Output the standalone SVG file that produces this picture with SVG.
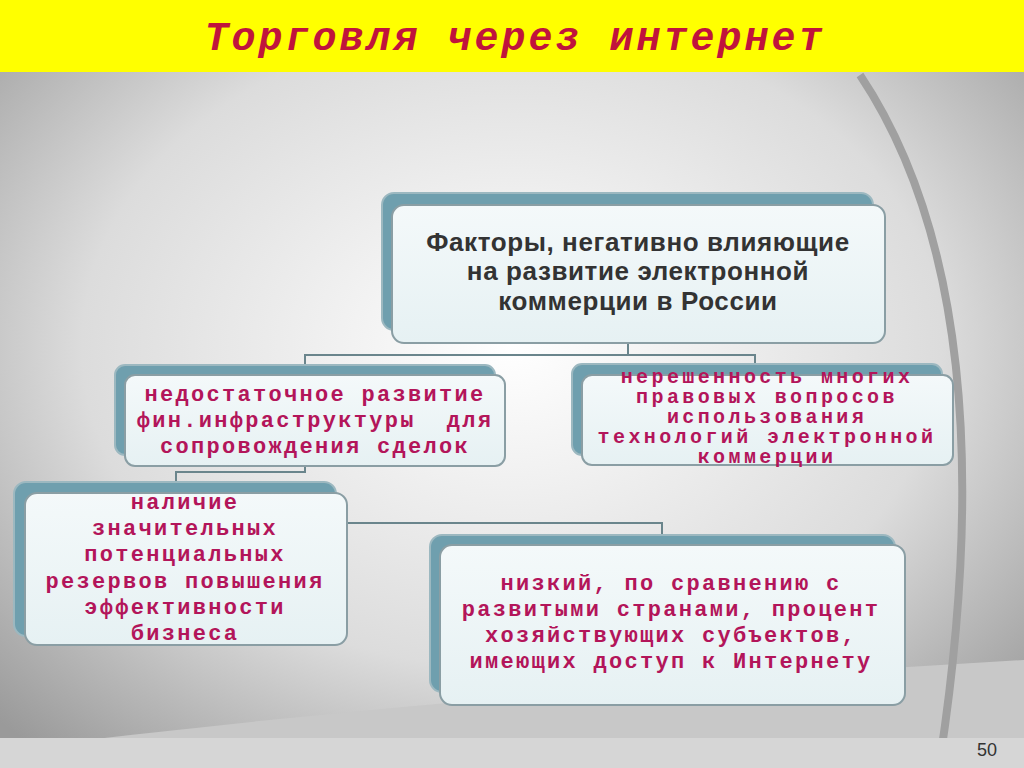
<svg xmlns="http://www.w3.org/2000/svg" width="1024" height="768" viewBox="0 0 1024 768">
<defs>
<radialGradient id="bg" cx="0.5" cy="0.45" r="0.7">
<stop offset="0" stop-color="#ffffff"/><stop offset="0.6" stop-color="#dcdcdc"/><stop offset="1" stop-color="#9a9a9a"/>
</radialGradient>
<linearGradient id="fr" x1="0" y1="0" x2="0" y2="1"><stop offset="0" stop-color="#f4f9fa"/><stop offset="1" stop-color="#e6f1f3"/></linearGradient>
</defs>
<style>
.back{fill:#6f9fae;stroke:#9cb8c0;stroke-width:2}
.front{fill:url(#fr);stroke:#8a9ea4;stroke-width:2}
.m{font-family:"Liberation Mono",monospace;font-weight:bold;font-size:22px;letter-spacing:2.3px;fill:#b3155a;text-anchor:middle}
.s{font-size:20px;letter-spacing:3.4px}
.h{font-family:"Liberation Sans",Arial,sans-serif;font-weight:bold;font-size:26px;letter-spacing:0.6px;fill:#333;text-anchor:middle}
.c{fill:none;stroke:#6a858c;stroke-width:2}
</style>
<rect width="1024" height="768" fill="url(#bg)"/>
<path d="M0 750 Q500 690 1024 660 V768 H0Z" fill="#c8c8c8"/>
<path d="M860 75 Q1010 300 940 760" fill="none" stroke="#a0a0a0" stroke-width="8"/>
<rect x="0" y="738" width="1024" height="30" fill="#d6d6d6"/>
<rect x="0" y="0" width="1024" height="72" fill="#ffff00"/>
<text x="515" y="50" font-family="Liberation Mono,monospace" font-weight="bold" font-style="italic" font-size="40" letter-spacing="3" fill="#c0143c" text-anchor="middle">Торговля через интернет</text>
<text x="987" y="756" font-family="Liberation Sans,sans-serif" font-size="18" fill="#333" text-anchor="middle">50</text>
<g id="connectors">
<path class="c" d="M628 343 V355 M305 365 V355 H755 V364"/>
<path class="c" d="M305 466 V472 H176 V482"/>
<path class="c" d="M347 523 H662 V535"/>
</g>
<g id="n1">
<rect class="back" x="382" y="193" width="491" height="137" rx="12"/>
<rect class="front" x="392" y="205" width="493" height="138" rx="12"/>
<text class="h" x="638" y="251">Факторы, негативно влияющие</text>
<text class="h" x="638" y="280">на развитие электронной</text>
<text class="h" x="638" y="310">коммерции в России</text>
</g>
<g id="n2">
<rect class="back" x="115" y="365" width="380" height="90" rx="10"/>
<rect class="front" x="125" y="375" width="380" height="91" rx="10"/>
<text class="m" x="315" y="401">недостаточное развитие</text>
<text class="m" x="315" y="427" xml:space="preserve">фин.инфраструктуры  для</text>
<text class="m" x="315" y="453">сопровождения сделок</text>
</g>
<g id="n3">
<rect class="back" x="572" y="364" width="370" height="91" rx="10"/>
<rect class="front" x="582" y="375" width="371" height="90" rx="10"/>
<text class="m s" x="767" y="383">нерешенность многих</text>
<text class="m s" x="767" y="403">правовых вопросов</text>
<text class="m s" x="767" y="423">использования</text>
<text class="m s" x="767" y="443">технологий электронной</text>
<text class="m s" x="767" y="463">коммерции</text>
</g>
<g id="n4">
<rect class="back" x="14" y="482" width="322" height="154" rx="12"/>
<rect class="front" x="25" y="493" width="322" height="152" rx="12"/>
<text class="m" x="185" y="509">наличие</text>
<text class="m" x="185" y="535">значительных</text>
<text class="m" x="185" y="561">потенциальных</text>
<text class="m" x="185" y="588">резервов повышения</text>
<text class="m" x="185" y="614">эффективности</text>
<text class="m" x="185" y="640">бизнеса</text>
</g>
<g id="n5">
<rect class="back" x="430" y="535" width="465" height="157" rx="12"/>
<rect class="front" x="440" y="545" width="465" height="160" rx="12"/>
<text class="m" x="671" y="590">низкий, по сравнению с</text>
<text class="m" x="671" y="616">развитыми странами, процент</text>
<text class="m" x="671" y="642">хозяйствующих субъектов,</text>
<text class="m" x="671" y="668">имеющих доступ к Интернету</text>
</g>
</svg>
